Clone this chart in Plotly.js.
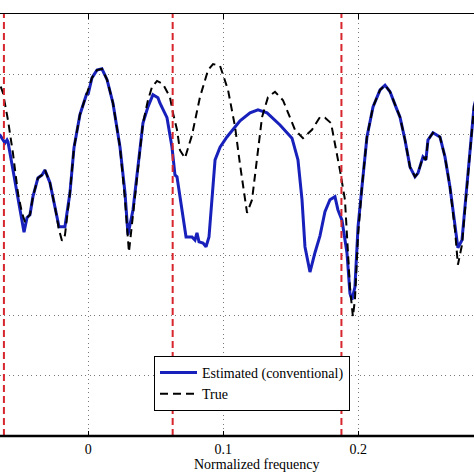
<!DOCTYPE html>
<html>
<head>
<meta charset="utf-8">
<script src="https://cdn.plot.ly/plotly-3.0.1.min.js"></script>
<style>
  html, body { margin: 0; padding: 0; background: #fff; }
  #chart { width: 474px; height: 474px; }
</style>
</head>
<body>
<div id="chart"></div>
<script>
// Spectrum estimate (conventional) vs. true spectrum, in dB over normalized frequency
const estFreq = [-0.0680, -0.0654, -0.0617, -0.0602, -0.0595, -0.0528, -0.0476, -0.0454, -0.0432, -0.0410,
  -0.0373, -0.0343, -0.0321, -0.0284, -0.0247, -0.0217, -0.0173, -0.0136, -0.0106, -0.0062,
  -0.0010, -0.0002, 0.0027, 0.0064, 0.0101, 0.0139, 0.0183, 0.0235, 0.0272, 0.0294,
  0.0331, 0.0368, 0.0405, 0.0442, 0.0479, 0.0516, 0.0531, 0.0583, 0.0620, 0.0642,
  0.0657, 0.0694, 0.0724, 0.0768, 0.0790, 0.0805, 0.0820, 0.0850, 0.0872, 0.0894,
  0.0916, 0.0939, 0.0976, 0.1027, 0.1124, 0.1198, 0.1257, 0.1324, 0.1420, 0.1509,
  0.1553, 0.1583, 0.1605, 0.1642, 0.1679, 0.1716, 0.1753, 0.1790, 0.1827, 0.1849,
  0.1879, 0.1916, 0.1938, 0.1953, 0.1975, 0.1998, 0.2027, 0.2064, 0.2109, 0.2161,
  0.2198, 0.2235, 0.2287, 0.2309, 0.2346, 0.2383, 0.2420, 0.2442, 0.2479, 0.2501,
  0.2516, 0.2553, 0.2605, 0.2642, 0.2679, 0.2716, 0.2738, 0.2768, 0.2805, 0.2835,
  0.2857, 0.2887];
const estDb = [-19.8, -20.1, -21.4, -20.9, -21.2, -29.7, -36.2, -33.8, -33.3, -30.3,
  -27.2, -26.7, -25.9, -28.0, -32.0, -35.3, -35.3, -29.7, -22.2, -16.7,
  -13.1, -13.4, -10.6, -9.3, -9.1, -10.9, -14.8, -22.1, -29.7, -36.6,
  -32.5, -25.4, -18.1, -15.4, -13.4, -13.9, -14.8, -17.2, -22.1, -26.7,
  -27.0, -32.5, -37.0, -37.0, -37.5, -36.3, -37.8, -38.0, -38.6, -37.0,
  -30.8, -24.2, -22.1, -20.4, -17.7, -16.4, -15.9, -16.4, -18.4, -20.6,
  -24.2, -30.8, -38.6, -42.8, -39.6, -36.8, -32.8, -30.8, -30.3, -32.5,
  -34.2, -39.6, -46.3, -47.4, -45.3, -35.3, -28.7, -20.4, -15.4, -12.6,
  -11.8, -12.9, -15.9, -17.1, -20.9, -25.4, -27.0, -26.4, -23.7, -24.2,
  -20.9, -19.7, -20.4, -23.7, -28.7, -35.3, -38.8, -37.5, -28.7, -20.4,
  -15.4, -12.6];

const trueFreq = [-0.0680, -0.0654, -0.0632, -0.0595, -0.0558, -0.0521, -0.0491, -0.0469, -0.0454, -0.0432,
  -0.0410, -0.0373, -0.0343, -0.0321, -0.0284, -0.0247, -0.0217, -0.0195, -0.0173, -0.0136,
  -0.0106, -0.0062, -0.0010, 0.0027, 0.0064, 0.0101, 0.0139, 0.0183, 0.0235, 0.0272,
  0.0301, 0.0331, 0.0368, 0.0405, 0.0442, 0.0472, 0.0509, 0.0553, 0.0605, 0.0627,
  0.0657, 0.0679, 0.0716, 0.0768, 0.0827, 0.0887, 0.0924, 0.0976, 0.1035, 0.1087,
  0.1124, 0.1146, 0.1176, 0.1213, 0.1250, 0.1287, 0.1331, 0.1383, 0.1442, 0.1531,
  0.1590, 0.1657, 0.1716, 0.1753, 0.1798, 0.1827, 0.1864, 0.1901, 0.1923, 0.1938,
  0.1960, 0.1975, 0.1998, 0.2027, 0.2064, 0.2109, 0.2161, 0.2198, 0.2235, 0.2287,
  0.2309, 0.2346, 0.2383, 0.2420, 0.2442, 0.2479, 0.2501, 0.2516, 0.2553, 0.2605,
  0.2642, 0.2679, 0.2716, 0.2738, 0.2768, 0.2805, 0.2835, 0.2857, 0.2887];
const trueDb = [-10.0, -11.8, -13.1, -17.6, -23.1, -29.7, -33.0, -34.5, -33.8, -33.3,
  -30.3, -27.2, -26.7, -25.9, -28.0, -32.0, -35.8, -37.6, -36.7, -29.7,
  -22.2, -16.7, -13.1, -10.6, -9.3, -9.1, -10.9, -14.8, -22.1, -30.8,
  -39.5, -33.3, -25.4, -18.1, -14.3, -12.1, -11.1, -11.6, -13.8, -16.4,
  -19.2, -22.6, -23.9, -20.1, -13.8, -9.3, -8.3, -8.6, -12.6, -18.7,
  -25.0, -28.7, -33.0, -30.8, -23.7, -17.1, -13.8, -12.9, -14.3, -19.2,
  -20.6, -19.2, -17.1, -17.2, -18.1, -21.4, -25.9, -30.8, -38.6, -45.3,
  -50.2, -47.4, -36.7, -28.7, -20.4, -15.4, -12.6, -11.8, -12.9, -15.9,
  -17.1, -20.9, -25.4, -27.0, -26.4, -23.7, -24.2, -20.9, -19.7, -20.4,
  -23.7, -28.7, -35.8, -41.6, -38.3, -28.7, -20.4, -15.4, -12.6];

// Band edges marked with red dashed lines
const bandEdges = [-0.0625, 0.0625, 0.1875];

const xTicks = [0, 0.1, 0.2];
const xTickText = ['0', '0.1', '0.2'];
const yRange = [-70, 0];
const xRange = [-0.0654, 0.2857];

const serif = 'Liberation Serif, Times New Roman, serif';
const fontSize = 14;

const traces = [
  {
    x: estFreq, y: estDb, type: 'scatter', mode: 'lines',
    name: 'Estimated (conventional)',
    line: { color: '#1720bb', width: 3 }
  },
  {
    x: trueFreq, y: trueDb, type: 'scatter', mode: 'lines',
    name: 'True',
    line: { color: '#000000', width: 2, dash: '8px,5px' }
  }
];

const shapes = bandEdges.map(f => ({
  type: 'line', xref: 'x', yref: 'paper',
  x0: f, x1: f, y0: 0, y1: 1,
  line: { color: '#d8262e', width: 2, dash: '7px,4px' },
  layer: 'above'
}));
// heavier bottom frame line
shapes.push({
  type: 'line', xref: 'paper', yref: 'paper', x0: 0, x1: 1, y0: 0, y1: 0,
  line: { color: '#000', width: 2.5 }, layer: 'above'
});

const layout = {
  width: 474, height: 474,
  margin: { l: 0, r: 0, t: 14, b: 38 },
  paper_bgcolor: '#ffffff', plot_bgcolor: '#ffffff',
  font: { family: serif, size: fontSize, color: '#000' },
  showlegend: true,
  legend: {
    x: 154 / 474, y: (436 - 356) / 422, xanchor: 'left', yanchor: 'top',
    bgcolor: '#ffffff', bordercolor: '#000000', borderwidth: 1,
    font: { family: serif, size: fontSize, color: '#000' },
    itemwidth: 37, tracegroupgap: 0
  },
  xaxis: {
    range: xRange, tickvals: xTicks, ticktext: xTickText,
    showgrid: true, gridcolor: '#7a7a7a', griddash: '1px,3.5px', gridwidth: 1,
    zeroline: false, showline: true, linecolor: '#000', linewidth: 1,
    mirror: 'ticks', ticks: 'inside', ticklen: 5, tickcolor: '#000',
    tickfont: { family: serif, size: fontSize, color: '#000' }
  },
  yaxis: {
    range: yRange, dtick: 10, tick0: 0,
    showgrid: true, gridcolor: '#7a7a7a', griddash: '1px,3.5px', gridwidth: 1,
    zeroline: false, showline: false, showticklabels: false, ticks: ''
  },
  shapes: shapes,
  annotations: [{
    text: 'Normalized frequency', xref: 'paper', yref: 'paper',
    x: 257 / 474, y: -(464 - 436) / 422, xanchor: 'center', yanchor: 'middle',
    showarrow: false, font: { family: serif, size: fontSize, color: '#000' }
  }]
};

Plotly.newPlot('chart', traces, layout, { displayModeBar: false, staticPlot: true });
</script>
</body>
</html>
